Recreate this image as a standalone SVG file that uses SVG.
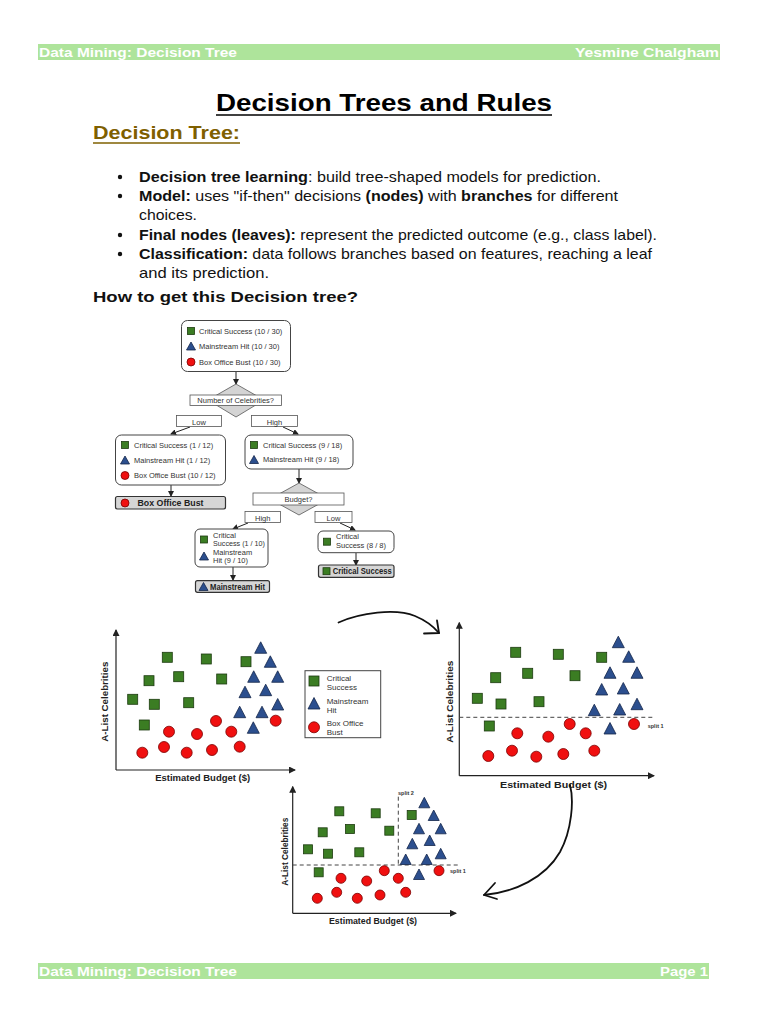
<svg xmlns="http://www.w3.org/2000/svg" width="768" height="1024" viewBox="0 0 768 1024">
<style>
.hdr{font-family:"Liberation Sans",Arial,sans-serif;font-weight:bold;font-size:13px;fill:#ffffff}
.body{font-family:"Liberation Sans",Arial,sans-serif;font-size:14.5px;fill:#111}
.b{font-weight:bold}
.t{font-family:"Liberation Sans",Arial,sans-serif;font-size:7.5px;fill:#333}
.tb{font-family:"Liberation Sans",Arial,sans-serif;font-size:8.5px;font-weight:bold;fill:#222}
.box{fill:#fff;stroke:#444;stroke-width:1}
.leaf{fill:#d6d6d6;stroke:#333;stroke-width:1.2}
.lbl{fill:#fff;stroke:#555;stroke-width:0.8}
.dia{fill:#d4d4d4;stroke:#555;stroke-width:0.8}
.con{stroke:#222;stroke-width:1;fill:none}
.sq{fill:#3b7d23;stroke:#1d3b10;stroke-width:0.8}
.tr{fill:#2c4f8e;stroke:#14264a;stroke-width:0.8}
.ci{fill:#f01010;stroke:#7a0000;stroke-width:0.8}
.ax{stroke:#222;stroke-width:1.2;fill:none}
.axl{font-family:"Liberation Sans",Arial,sans-serif;font-size:8.5px;font-weight:bold;fill:#222}
.lg{font-family:"Liberation Sans",Arial,sans-serif;font-size:8px;fill:#333}
.dash{stroke:#444;stroke-width:1;stroke-dasharray:4,3;fill:none}
.sp{font-family:"Liberation Sans",Arial,sans-serif;font-size:5.5px;font-weight:bold;fill:#333}
.hand{stroke:#111;stroke-width:1.8;fill:none;stroke-linecap:round;stroke-linejoin:round}
</style>
<defs>
<marker id="ah" markerWidth="6" markerHeight="6" refX="5" refY="3" orient="auto" markerUnits="userSpaceOnUse">
<path d="M0,0 L6,3 L0,6 Z" fill="#222"/>
</marker>
<marker id="axh" markerWidth="7" markerHeight="7" refX="6" refY="3.5" orient="auto" markerUnits="userSpaceOnUse">
<path d="M0,0 L7,3.5 L0,7 Z" fill="#222"/>
</marker>
<rect id="sq" x="-5" y="-5" width="10" height="10" class="sq"/>
<polygon id="tr" points="0,-6.5 6,5 -6,5" class="tr"/>
<circle id="ci" r="5.5" class="ci"/>
<rect id="sqs" x="-4.5" y="-4.5" width="9" height="9" class="sq"/>
<polygon id="trs" points="0,-6 5.5,4.5 -5.5,4.5" class="tr"/>
<circle id="cis" r="5" class="ci"/>
<rect id="sqt" x="-3.5" y="-3.5" width="7" height="7" class="sq"/>
<polygon id="trt" points="0,-4.5 4.5,3.5 -4.5,3.5" class="tr"/>
<circle id="cit" r="4" class="ci"/>
</defs>
<rect width="768" height="1024" fill="#fff"/>

<!-- header -->
<g id="header">
<rect x="38" y="44" width="682" height="16" fill="#aee49b"/>
<text x="39" y="56.5" class="hdr" textLength="198" lengthAdjust="spacingAndGlyphs">Data Mining: Decision Tree</text>
<text x="719" y="56.5" class="hdr" text-anchor="end" textLength="144" lengthAdjust="spacingAndGlyphs">Yesmine Chalgham</text>
</g>

<g id="title">
<text x="216" y="111" font-family="'Liberation Sans',Arial,sans-serif" font-size="24" font-weight="bold" fill="#000" textLength="336" lengthAdjust="spacingAndGlyphs">Decision Trees and Rules</text>
<line x1="216" y1="115" x2="552" y2="115" stroke="#000" stroke-width="1.5"/>
<text x="93" y="139" font-family="'Liberation Sans',Arial,sans-serif" font-size="18" font-weight="bold" fill="#7f6000" textLength="147" lengthAdjust="spacingAndGlyphs">Decision Tree:</text>
<line x1="93" y1="143" x2="240" y2="143" stroke="#7f6000" stroke-width="1.3"/>
</g>

<g id="bullets">
<circle cx="120" cy="177" r="2.2" fill="#111"/>
<circle cx="120" cy="196" r="2.2" fill="#111"/>
<circle cx="120" cy="235" r="2.2" fill="#111"/>
<circle cx="120" cy="254" r="2.2" fill="#111"/>
<text x="139" y="182" class="body" textLength="462" lengthAdjust="spacingAndGlyphs"><tspan class="b">Decision tree learning</tspan>: build tree-shaped models for prediction.</text>
<text x="139" y="201" class="body" textLength="479" lengthAdjust="spacingAndGlyphs"><tspan class="b">Model:</tspan> uses "if-then" decisions <tspan class="b">(nodes)</tspan> with <tspan class="b">branches</tspan> for different</text>
<text x="139" y="220" class="body" textLength="58" lengthAdjust="spacingAndGlyphs">choices.</text>
<text x="139" y="240" class="body" textLength="518" lengthAdjust="spacingAndGlyphs"><tspan class="b">Final nodes (leaves):</tspan> represent the predicted outcome (e.g., class label).</text>
<text x="139" y="259" class="body" textLength="513" lengthAdjust="spacingAndGlyphs"><tspan class="b">Classification:</tspan> data follows branches based on features, reaching a leaf</text>
<text x="139" y="278" class="body" textLength="130" lengthAdjust="spacingAndGlyphs">and its prediction.</text>
<text x="93" y="302" font-family="'Liberation Sans',Arial,sans-serif" font-size="15.5" font-weight="bold" fill="#111" textLength="265" lengthAdjust="spacingAndGlyphs">How to get this Decision tree?</text>
</g>

<!-- decision tree connectors -->
<g id="tree-connectors">
<line x1="236" y1="371" x2="236" y2="384" class="con" marker-end="url(#ah)"/>
<line x1="190" y1="427" x2="171" y2="434" class="con" marker-end="url(#ah)"/>
<line x1="283" y1="427" x2="298" y2="434" class="con" marker-end="url(#ah)"/>
<line x1="171" y1="485" x2="171" y2="496" class="con" marker-end="url(#ah)"/>
<line x1="299" y1="469" x2="299" y2="483" class="con" marker-end="url(#ah)"/>
<line x1="248" y1="523" x2="233" y2="529" class="con" marker-end="url(#ah)"/>
<line x1="340" y1="523" x2="355" y2="530" class="con" marker-end="url(#ah)"/>
<line x1="233" y1="567" x2="233" y2="580" class="con" marker-end="url(#ah)"/>
<line x1="356" y1="553" x2="356" y2="565" class="con" marker-end="url(#ah)"/>
</g>

<g id="root">
<rect x="181.5" y="320.5" width="109" height="51" rx="6" class="box"/>
<use href="#sqt" x="191" y="331"/>
<text x="199" y="333.5" class="t">Critical Success (10 / 30)</text>
<use href="#trt" x="191" y="346.5"/>
<text x="199" y="349" class="t">Mainstream Hit (10 / 30)</text>
<use href="#cit" x="191" y="362"/>
<text x="199" y="364.5" class="t">Box Office Bust (10 / 30)</text>
</g>

<g id="split-celebrities">
<polygon points="236,384 264,400 236,417 208,400" class="dia"/>
<rect x="190" y="395" width="91.5" height="10.5" class="lbl"/>
<text x="235.7" y="403" class="t" text-anchor="middle">Number of Celebrities?</text>
<rect x="176.5" y="415.5" width="45" height="11" class="lbl"/>
<text x="199" y="424.5" class="t" font-size="8.5" text-anchor="middle">Low</text>
<rect x="251.5" y="415.5" width="46" height="11" class="lbl"/>
<text x="274.5" y="424.5" class="t" font-size="8.5" text-anchor="middle">High</text>
</g>

<g id="node-low">
<rect x="115.5" y="435" width="110" height="50" rx="6" class="box"/>
<use href="#sqt" x="125" y="445"/>
<text x="134" y="447.5" class="t">Critical Success (1 / 12)</text>
<use href="#trt" x="125" y="460.5"/>
<text x="134" y="462.5" class="t">Mainstream Hit (1 / 12)</text>
<use href="#cit" x="125" y="475.5"/>
<text x="134" y="478" class="t">Box Office Bust (10 / 12)</text>
</g>

<g id="leaf-bust">
<rect x="115.5" y="496.5" width="110" height="12.5" rx="2" class="leaf"/>
<use href="#cit" x="125" y="503"/>
<text x="137.5" y="506.3" class="tb" textLength="66" lengthAdjust="spacingAndGlyphs">Box Office Bust</text>
</g>

<g id="node-high">
<rect x="245" y="435" width="108" height="34" rx="6" class="box"/>
<use href="#sqt" x="254" y="445"/>
<text x="263" y="447.5" class="t">Critical Success (9 / 18)</text>
<use href="#trt" x="254" y="460"/>
<text x="263" y="462" class="t">Mainstream Hit (9 / 18)</text>
</g>

<g id="split-budget">
<polygon points="299,483 328,499 299,515 270,499" class="dia"/>
<rect x="253" y="493" width="91" height="12" class="lbl"/>
<text x="298.5" y="502" class="t" text-anchor="middle">Budget?</text>
<rect x="245" y="511.5" width="35.5" height="11" class="lbl"/>
<text x="262.7" y="520.5" class="t" font-size="8.5" text-anchor="middle">High</text>
<rect x="315" y="511.5" width="37" height="11" class="lbl"/>
<text x="333.5" y="520.5" class="t" font-size="8.5" text-anchor="middle">Low</text>
</g>

<g id="node-budget-high">
<rect x="195" y="529" width="73" height="38" rx="5" class="box"/>
<use href="#sqt" x="204" y="539.5"/>
<text x="213" y="538" class="t">Critical</text>
<text x="213" y="546.3" class="t" textLength="52" lengthAdjust="spacingAndGlyphs">Success (1 / 10)</text>
<use href="#trt" x="204" y="556.5"/>
<text x="213" y="554.5" class="t">Mainstream</text>
<text x="213" y="562.7" class="t">Hit (9 / 10)</text>
</g>

<g id="leaf-mainstream">
<rect x="195.5" y="580.7" width="74" height="11.6" rx="2" class="leaf"/>
<use href="#trt" x="203.5" y="587"/>
<text x="210" y="589.5" class="tb" font-size="7.5" textLength="55" lengthAdjust="spacingAndGlyphs">Mainstream Hit</text>
</g>

<g id="node-budget-low">
<rect x="318" y="531" width="76" height="21.7" rx="5" class="box"/>
<use href="#sqt" x="327" y="541.7"/>
<text x="336" y="539.3" class="t">Critical</text>
<text x="336" y="548" class="t">Success (8 / 8)</text>
</g>

<g id="leaf-critical">
<rect x="318.5" y="565" width="75.5" height="12.3" rx="2" class="leaf"/>
<use href="#sqt" x="326.5" y="571.2"/>
<text x="332.7" y="574" class="tb" font-size="7.5" textLength="59" lengthAdjust="spacingAndGlyphs">Critical Success</text>
</g>

<!-- scatter plot 1 -->
<g id="plot1">
<line x1="116" y1="770" x2="116" y2="630" class="ax" marker-end="url(#axh)"/>
<line x1="116" y1="770" x2="295" y2="770" class="ax" marker-end="url(#axh)"/>
<text x="0" y="0" class="axl" text-anchor="middle" transform="translate(108,701.7) rotate(-90)" textLength="80" lengthAdjust="spacingAndGlyphs">A-List Celebrities</text>
<text x="202.7" y="781" class="axl" text-anchor="middle" textLength="95" lengthAdjust="spacingAndGlyphs">Estimated Budget ($)</text>
<use href="#sq" x="167.3" y="657.3"/><use href="#sq" x="206.3" y="659"/><use href="#sq" x="246" y="661.7"/>
<use href="#sq" x="149" y="680.7"/><use href="#sq" x="178.7" y="676.7"/><use href="#sq" x="221.7" y="679"/>
<use href="#sq" x="132.7" y="699.3"/><use href="#sq" x="154.3" y="704.3"/><use href="#sq" x="188.7" y="702.7"/>
<use href="#sq" x="144.3" y="725"/>
<use href="#tr" x="260.7" y="648.3"/><use href="#tr" x="270.3" y="662.3"/><use href="#tr" x="253.7" y="677.3"/>
<use href="#tr" x="277.7" y="677.3"/><use href="#tr" x="245" y="692.7"/><use href="#tr" x="265.7" y="690.7"/>
<use href="#tr" x="277.7" y="705"/><use href="#tr" x="239.7" y="712.7"/><use href="#tr" x="262" y="712.7"/>
<use href="#tr" x="253.3" y="728.3"/>
<use href="#ci" x="216" y="721"/><use href="#ci" x="275.7" y="720.7"/><use href="#ci" x="169" y="731.7"/>
<use href="#ci" x="197" y="734"/><use href="#ci" x="231.3" y="731.7"/><use href="#ci" x="142.3" y="752.7"/>
<use href="#ci" x="164" y="747"/><use href="#ci" x="186.7" y="752.7"/><use href="#ci" x="212" y="750"/>
<use href="#ci" x="239.7" y="746.7"/>
</g>

<g id="legend">
<rect x="305" y="670.7" width="75.7" height="67" fill="#fff" stroke="#444" stroke-width="1"/>
<use href="#sq" x="314" y="681"/>
<text x="326.7" y="681" class="lg">Critical</text>
<text x="326.7" y="690" class="lg">Success</text>
<use href="#tr" x="314" y="704"/>
<text x="326.7" y="703.5" class="lg">Mainstream</text>
<text x="326.7" y="712.5" class="lg">Hit</text>
<use href="#ci" x="314" y="727.3"/>
<text x="326.7" y="726" class="lg">Box Office</text>
<text x="326.7" y="735" class="lg">Bust</text>
</g>

<!-- scatter plot 2 -->
<g id="plot2">
<line x1="459.3" y1="775.7" x2="459.3" y2="622.7" class="ax" marker-end="url(#axh)"/>
<line x1="459.3" y1="775.7" x2="654" y2="775.7" class="ax" marker-end="url(#axh)"/>
<text x="0" y="0" class="axl" text-anchor="middle" transform="translate(452.5,701.7) rotate(-90)" textLength="82" lengthAdjust="spacingAndGlyphs">A-List Celebrities</text>
<text x="553.5" y="787.5" class="axl" text-anchor="middle" textLength="107" lengthAdjust="spacingAndGlyphs">Estimated Budget ($)</text>
<line x1="459.3" y1="717.3" x2="655" y2="717.3" class="dash"/>
<text x="647.7" y="727.5" class="sp">split 1</text>
<use href="#sq" x="515.7" y="652.3"/><use href="#sq" x="558.3" y="654.3"/><use href="#sq" x="601.7" y="657.3"/>
<use href="#sq" x="495.7" y="677.7"/><use href="#sq" x="527.7" y="673.3"/><use href="#sq" x="575" y="675.7"/>
<use href="#sq" x="477.3" y="698.3"/><use href="#sq" x="501" y="704"/><use href="#sq" x="539" y="701.7"/>
<use href="#sq" x="489.3" y="726"/>
<use href="#tr" x="618.3" y="642.7"/><use href="#tr" x="628.7" y="657.3"/><use href="#tr" x="610" y="673.3"/>
<use href="#tr" x="637" y="673.3"/><use href="#tr" x="601.7" y="690"/><use href="#tr" x="623.3" y="689"/>
<use href="#tr" x="637" y="704.7"/><use href="#tr" x="594.3" y="710.7"/><use href="#tr" x="619.7" y="710"/>
<use href="#tr" x="610" y="729"/>
<use href="#ci" x="569.7" y="724"/><use href="#ci" x="634" y="724"/><use href="#ci" x="517.3" y="733.3"/>
<use href="#ci" x="548.3" y="736.7"/><use href="#ci" x="585.7" y="733.3"/><use href="#ci" x="488.3" y="756"/>
<use href="#ci" x="512" y="750.7"/><use href="#ci" x="536.3" y="756.7"/><use href="#ci" x="563.3" y="754"/>
<use href="#ci" x="594.3" y="750.7"/>
</g>

<!-- scatter plot 3 -->
<g id="plot3">
<line x1="292.7" y1="913.3" x2="292.7" y2="786.7" class="ax" marker-end="url(#axh)"/>
<line x1="292.7" y1="913.3" x2="456" y2="913.3" class="ax" marker-end="url(#axh)"/>
<text x="0" y="0" class="axl" font-size="7.5" text-anchor="middle" transform="translate(288,851.7) rotate(-90)" textLength="68" lengthAdjust="spacingAndGlyphs">A-List Celebrities</text>
<text x="373" y="924" class="axl" font-size="7.5" text-anchor="middle" textLength="88" lengthAdjust="spacingAndGlyphs">Estimated Budget ($)</text>
<line x1="292.7" y1="865" x2="458" y2="865" class="dash"/>
<line x1="398.3" y1="796.7" x2="398.3" y2="865" class="dash"/>
<text x="398" y="795" class="sp" font-size="5">split 2</text>
<text x="450" y="872.5" class="sp" font-size="5">split 1</text>
<use href="#sqs" x="339.3" y="811.3"/><use href="#sqs" x="375.7" y="813.3"/><use href="#sqs" x="411.7" y="815"/>
<use href="#sqs" x="322.7" y="832.3"/><use href="#sqs" x="350" y="829"/><use href="#sqs" x="389.3" y="830.7"/>
<use href="#sqs" x="308" y="849.3"/><use href="#sqs" x="328" y="853.7"/><use href="#sqs" x="359.3" y="852.3"/>
<use href="#sqs" x="318.7" y="872.3"/>
<use href="#trs" x="424.3" y="803.3"/><use href="#trs" x="433.7" y="816"/><use href="#trs" x="419" y="829.3"/>
<use href="#trs" x="440.7" y="829.3"/><use href="#trs" x="412.3" y="844.3"/><use href="#trs" x="429.7" y="841"/>
<use href="#trs" x="440.7" y="854.3"/><use href="#trs" x="405.7" y="860"/><use href="#trs" x="426.7" y="860"/>
<use href="#trs" x="419" y="875"/>
<use href="#cis" x="384.3" y="870.7"/><use href="#cis" x="439" y="870.7"/><use href="#cis" x="341" y="878.3"/>
<use href="#cis" x="366.7" y="881"/><use href="#cis" x="398.3" y="878.3"/><use href="#cis" x="317.3" y="898.3"/>
<use href="#cis" x="336.7" y="892.3"/><use href="#cis" x="357.3" y="898.3"/><use href="#cis" x="380" y="895"/>
<use href="#cis" x="405.7" y="892.3"/>
</g>

<!-- hand-drawn arrows -->
<g id="connectors">
<path d="M338.5,622.5 C360,613 395,608 415,616 C427,621 434,627 439,633" class="hand"/>
<path d="M424,633.5 L439,633 L437,620.5" class="hand"/>
<path d="M570,785 C574,800 572,830 560,852 C545,878 515,892 484,895" class="hand"/>
<path d="M495,883 L484,895 L497,899" class="hand"/>
</g>

<!-- footer -->
<g id="footer">
<rect x="38" y="963" width="671" height="16" fill="#aee49b"/>
<text x="39" y="975.5" class="hdr" textLength="198" lengthAdjust="spacingAndGlyphs">Data Mining: Decision Tree</text>
<text x="708" y="975.5" class="hdr" text-anchor="end" textLength="48" lengthAdjust="spacingAndGlyphs">Page 1</text>
</g>
</svg>
